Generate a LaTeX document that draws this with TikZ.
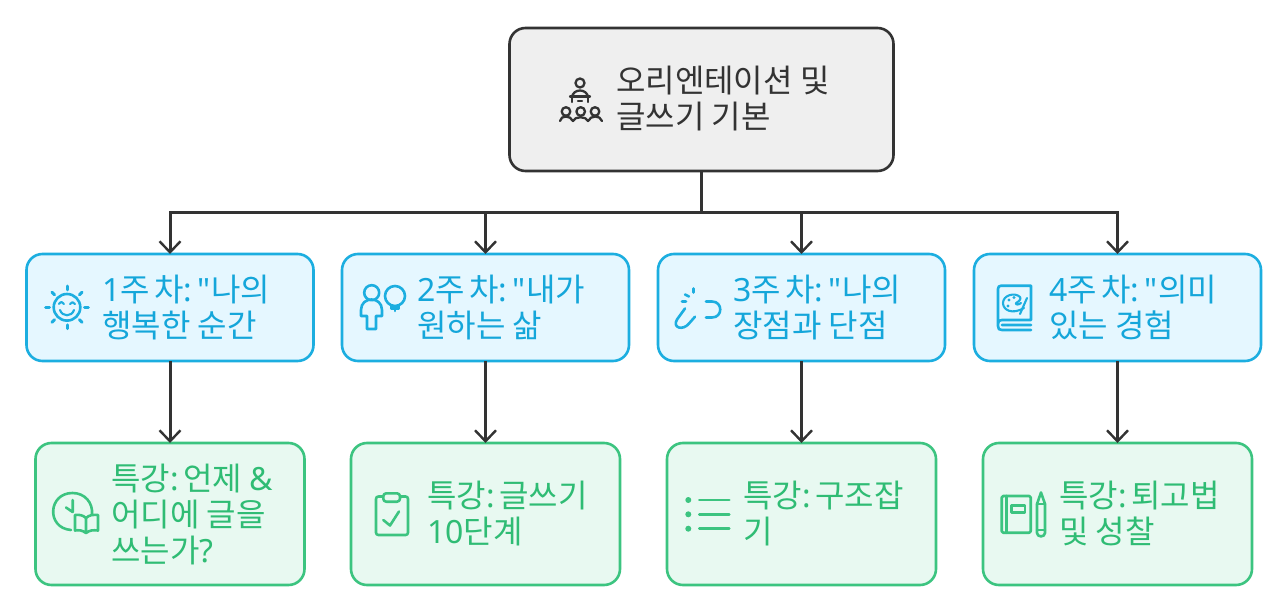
\documentclass[tikz,border=0pt]{standalone}
\usepackage{fontspec}
\setmainfont{Noto Sans CJK KR}
\newfontfamily\latf{Noto Sans}
\newcommand{\lt}[1]{{\latf #1}}
\newcommand{\wk}{\hspace*{4.5pt}}
\newcommand{\cq}{{\latf :}\hspace*{5.5pt}{\latf "}}
\newcommand{\cn}{{\latf :}\hspace*{4.5pt}}
\usetikzlibrary{arrows.meta}
\definecolor{rootfill}{HTML}{EFEFEF}
\definecolor{rootline}{HTML}{333333}
\definecolor{bluefill}{HTML}{E5F7FF}
\definecolor{blueline}{HTML}{1CAEE0}
\definecolor{bluetext}{HTML}{14A6DA}
\definecolor{greenfill}{HTML}{E8F9F1}
\definecolor{greenline}{HTML}{3CC480}
\definecolor{greentext}{HTML}{2FBC74}
\tikzset{
  x=1pt,y=-1pt,
  boxbase/.style={draw,rounded corners=16pt,line width=2.6pt,inner sep=0pt,outer sep=0pt,anchor=north west},
  rootbox/.style={boxbase,fill=rootfill,draw=rootline,minimum width=384pt,minimum height=143pt},
  bluebox/.style={boxbase,fill=bluefill,draw=blueline,minimum width=287pt,minimum height=107pt},
  greenbox/.style={boxbase,fill=greenfill,draw=greenline,minimum width=269pt,minimum height=142pt},
  label/.style={anchor=west,align=left,inner sep=0pt,font=\fontsize{32}{36}\selectfont},
  conn/.style={draw=rootline,line width=3pt,-{Straight Barb[length=11pt,width=21pt,line width=2.4pt]}},
  icoB/.style={draw=blueline,line width=2.6pt,line cap=round,line join=round},
  icoG/.style={draw=greenline,line width=2.6pt,line cap=round,line join=round},
  icoK/.style={draw=rootline,line width=2.3pt,line cap=round,line join=round},
}
\begin{document}
\begin{tikzpicture}
\useasboundingbox (0,0) rectangle (1280,599);
\fill[white] (0,0) rectangle (1280,599);
\node[rootbox] (root) at (509.5,28) {};
\node[bluebox] (b1) at (26.5,254) {};
\node[bluebox] (b2) at (342,254) {};
\node[bluebox] (b3) at (658,254) {};
\node[bluebox] (b4) at (974,254) {};
\node[greenbox] (g1) at (35.5,443) {};
\node[greenbox] (g2) at (351,443) {};
\node[greenbox] (g3) at (667,443) {};
\node[greenbox] (g4) at (983,443) {};
\coordinate (bus) at (701.5,212);
\foreach \n in {1,2,3,4}{
  \draw[conn] (root.south) -- (bus) -| (b\n.north);
  \draw[conn] (b\n.south) -- (g\n.north);
}
\node[label,text=rootline] (troot) at (616,99) {오리엔테이션 및\\글쓰기 기본};
\node[label,text=bluetext] (t1) at (102,307.5) {\lt{1}주\wk 차\cq 나의\\행복한 순간};
\node[label,text=bluetext] (t2) at (417,307.5) {\lt{2}주\wk 차\cq 내가\\원하는 삶};
\node[label,text=bluetext] (t3) at (733,307.5) {\lt{3}주\wk 차\cq 나의\\장점과 단점};
\node[label,text=bluetext] (t4) at (1049,307.5) {\lt{4}주\wk 차\cq 의미\\있는 경험};
\node[label,text=greentext] (u1) at (111,514) {특강\cn 언제 \lt{\&}\\어디에 글을\\쓰는가\lt{?}};
\node[label,text=greentext] (u2) at (427,513.5) {특강\cn 글쓰기\\\lt{10}단계};
\node[label,text=greentext] (u3) at (743,513.5) {특강\cn 구조잡\\기};
\node[label,text=greentext] (u4) at (1059,513.5) {특강\cn 퇴고법\\및 성찰};
% root icon
\draw[icoK] (580,83) circle (4.5);
\draw[icoK] (572,98) .. controls (572,88) and (588,88) .. (588,98);
\draw[icoK] (570,96.5) -- (590,96.5) (572,96.5) -- (572,102) (588,96.5) -- (588,102) (578,101) -- (582,101);
\foreach \cx in {566,580.7,595}{\draw[icoK] (\cx,111.5) circle (4.3);}
\draw[icoK] (560,121) .. controls (561,115) and (570,115) .. (573,121) .. controls (575,116) and (586,116) .. (588,121) .. controls (591,115) and (600,115) .. (602,121);
% sun
\draw[icoB] (67,307.3) circle (13.3);
\foreach \a in {0,45,...,315}{\draw[icoB,line width=3pt] (67,307.3) ++(\a:17.5) -- ++(\a:3.8);}
\draw[icoB,line width=2.1pt] (59,304) .. controls (60.5,301.5) and (63,301.5) .. (64,304) (70,304) .. controls (71,301.5) and (74,301.5) .. (75,304) (60,310) .. controls (62,317) and (72,317) .. (74,310);
% person and bulb
\draw[icoB] (371.7,292.7) circle (7.5);
\draw[icoB] (361,316) -- (361,310) .. controls (361,296) and (382,296) .. (382,310) -- (382,316) -- (376,316) -- (376,329) -- (367,329) -- (367,316) -- cycle;
\draw[icoB] (395,296) circle (10);
\draw[icoB] (391,306) -- (391,308.5) -- (399,308.5) -- (399,306) (395,308.5) -- (395,311);
% broken link
\draw[icoB] (695,316.7) -- (689,323.5) .. controls (683,331) and (672,328) .. (677,319.5) -- (685,308.5);
\draw[icoB] (706,301.5) -- (712,301.5) .. controls (723,301.5) and (723,317.5) .. (712,317.5) -- (706,317.5);
\draw[icoB] (693.5,288.5) -- (693.5,292.5) (685,294.5) -- (689,296.5) (682,301.5) -- (686,301.5);
% book
\draw[icoB] (1031,285.7) -- (1001,285.7) .. controls (999,285.7) and (998,287) .. (998,289) -- (998,326) .. controls (998,329) and (999,330) .. (1002,330) -- (1031,330) (998,324) .. controls (998,321) and (999,320) .. (1002,320) -- (1031,320) -- (1031,285.7) (1002,325) -- (1031,325);
\draw[icoB,line width=2.1pt] (1024,308) .. controls (1012,315) and (1003,310) .. (1003,303) .. controls (1003,295) and (1015,292) .. (1020,297) .. controls (1022,299) and (1018,302) .. (1016,303) .. controls (1015,305) and (1019,305) .. (1021,303);
\fill[blueline] (1009,300) circle (1.6) (1014,297.5) circle (1.6) (1008,306) circle (1.6);
\draw[icoB,line width=2.1pt] (1020,314) -- (1027,298);
% clock and book
\draw[icoG] (71,530) .. controls (46,528) and (48,493) .. (72.5,493) .. controls (85,493) and (93,503) .. (92,514);
\draw[icoG] (72.7,500) -- (72.7,512) -- (66,507.5);
\draw[icoG] (86,533) .. controls (82,530) and (79,530) .. (75,530.5) -- (75,515) .. controls (79,514.5) and (83,515) .. (86,518) .. controls (89,515) and (93,514.5) .. (98,515) -- (98,530.5) .. controls (93,530) and (90,530) .. (86,533) -- (86,518);
% clipboard
\draw[icoG] (383,496.5) -- (378.5,496.5) .. controls (377,496.5) and (376,497.5) .. (376,499) -- (376,532.5) .. controls (376,534) and (377,535) .. (378.5,535) -- (405.5,535) .. controls (407,535) and (408,534) .. (408,532.5) -- (408,499) .. controls (408,497.5) and (407,496.5) .. (405.5,496.5) -- (400.5,496.5);
\draw[icoG,rounded corners=3pt] (383.3,493.3) rectangle (400,501.7);
\draw[icoG] (383.3,520) -- (390,525.5) -- (399,511.5);
% list
\foreach \y in {500,514.3,528.7}{
  \fill[greenline] (688.3,\y) circle (3);
  \draw[icoG] (699.3,\y) -- (729.3,\y);
}
% notebook
\draw[icoG,rounded corners=1.5pt] (1001.7,496) rectangle (1030.7,532.7);
\draw[icoG] (1006.7,496) -- (1006.7,532.7);
\draw[icoG] (1011.7,505.7) rectangle (1025,512.7);
\draw[icoG] (1037,504) -- (1041,492.5) -- (1045,504) -- (1045,533) .. controls (1045,537.5) and (1037,537.5) .. (1037,533) -- cycle;
\draw[icoG] (1037,504) -- (1045,504) (1037,530) -- (1045,530);
\end{tikzpicture}
\end{document}
